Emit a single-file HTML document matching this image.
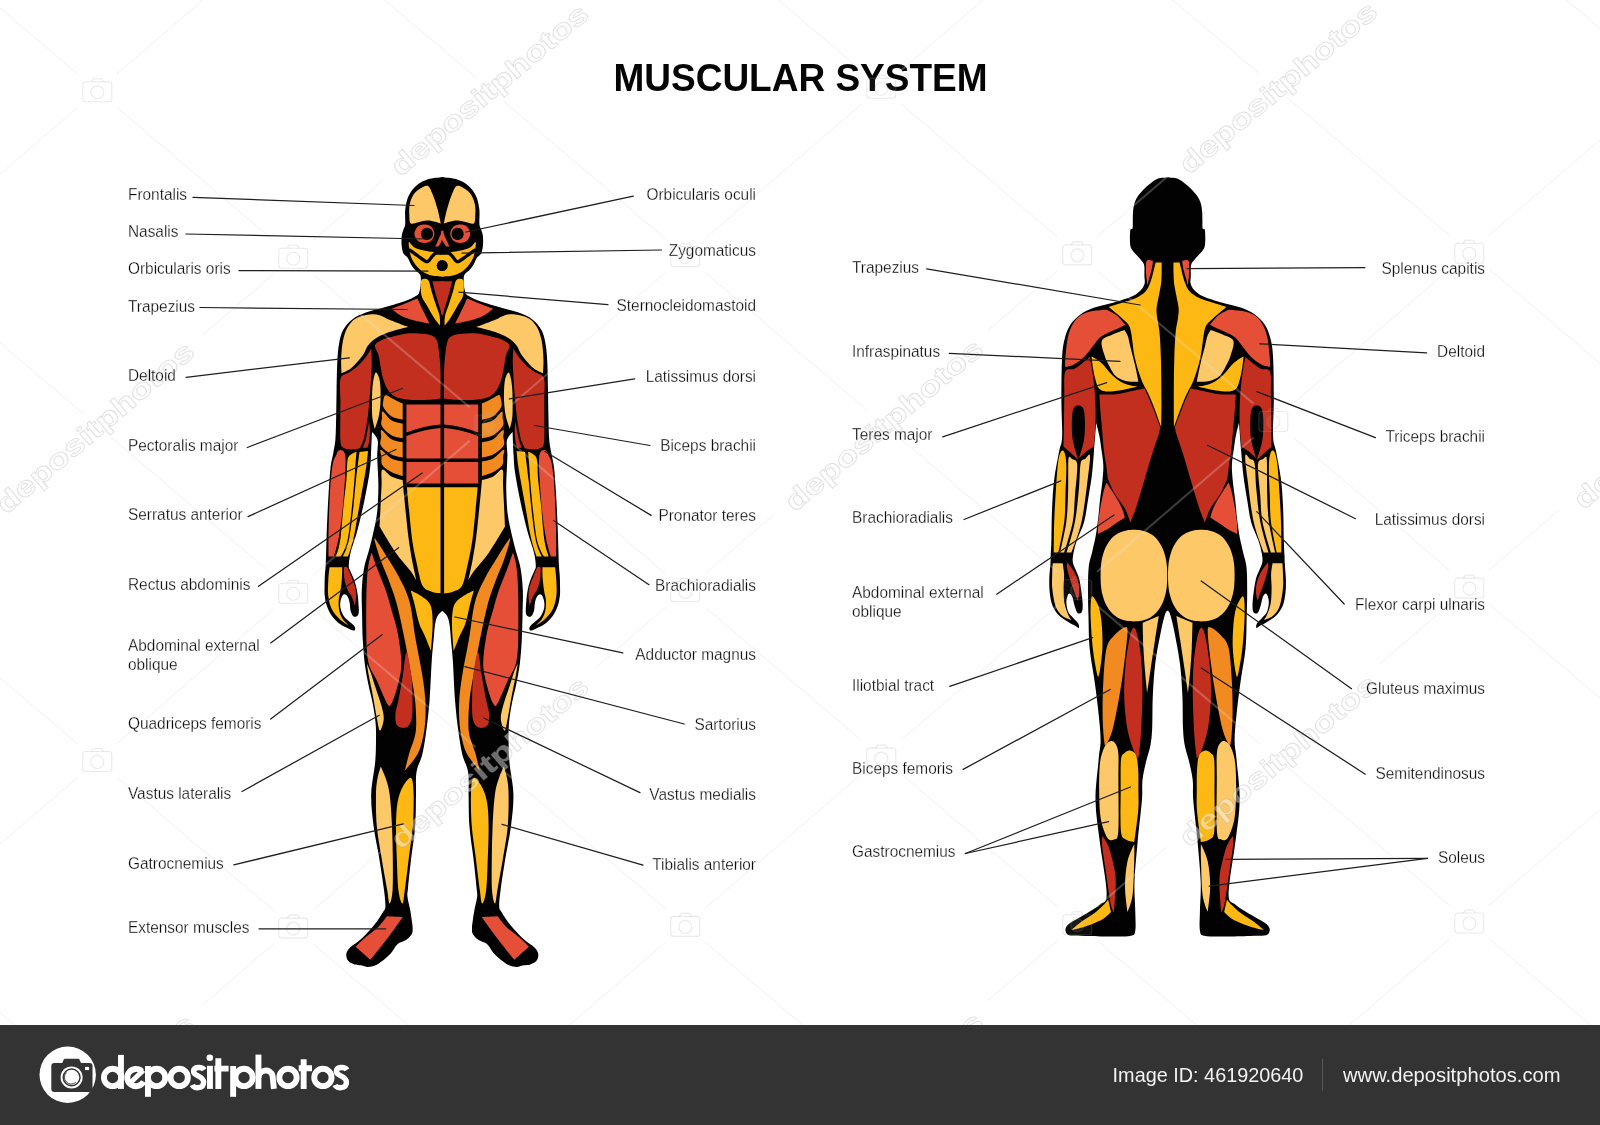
<!DOCTYPE html>
<html><head><meta charset="utf-8"><style>
html,body{margin:0;padding:0;background:#fff;}
body{width:1600px;height:1125px;overflow:hidden;position:relative;font-family:"Liberation Sans",sans-serif;}
svg{position:absolute;left:0;top:0;will-change:transform;}
</style></head><body>
<svg width="1600" height="1125" viewBox="0 0 1600 1125">
<rect x="0" y="0" width="1600" height="1125" fill="#ffffff"/>
<text x="613.5" y="90.6" font-family="Liberation Sans, sans-serif" font-weight="bold" font-size="39.2" fill="#050505" textLength="374" lengthAdjust="spacingAndGlyphs">MUSCULAR SYSTEM</text>
<g id="fs">
<path d="M443.5 177.3C443.5 177.3 444.9 177 442.3 177.3C439.7 177.6 432.3 177.9 428 179.3C423.7 180.7 419.7 182.8 416.5 185.5C413.3 188.2 410.7 191.6 408.8 195.5C406.9 199.4 405.9 204.2 405.3 209C404.7 213.8 405.5 220.6 405.2 224C404.9 227.4 404.1 227.5 403.5 229.5C402.9 231.5 402 233.2 401.7 236C401.4 238.8 401.4 243.1 401.7 246C402 248.9 402.5 251.6 403.5 253.5C404.5 255.4 406.2 255.7 407.5 257.5C408.8 259.3 409.7 262.3 411 264.5C412.3 266.7 413.9 268.8 415.5 270.5C417.1 272.2 419.4 272.9 420.3 275C421.2 277.1 420.9 280.3 420.8 283C420.7 285.7 420.3 288.9 419.6 291C418.9 293.1 419.4 293.8 416.8 295.5C414.2 297.2 409.4 299.5 403.8 301.5C398.2 303.5 389.4 305.9 383.1 307.7C376.8 309.5 371 310.6 365.9 312.5C360.8 314.4 356 316.5 352.2 319.4C348.4 322.3 345.5 325.7 343.3 329.7C341.1 333.7 340.1 338 339.1 343.4C338.1 348.8 337.7 354.2 337.3 362C336.9 369.8 336.8 381.2 336.6 390C336.4 398.8 336.4 407 336.2 415C336 423 335.9 431.8 335.5 438C335.1 444.2 334.3 447 333.5 452C332.7 457 331.3 460.8 330.5 468C329.7 475.2 329.1 485.5 328.5 495C327.9 504.5 327.4 515.8 327 525C326.6 534.2 326.4 543.3 326.2 550C326 556.7 325.9 560.8 325.7 565C325.5 569.2 325.1 571.7 324.9 575C324.7 578.3 324.6 581.6 324.6 585C324.6 588.4 324.3 592.1 324.7 595.6C325.1 599.1 325.6 602.4 326.8 605.8C328 609.2 329.6 612.8 331.9 615.9C334.1 619 337.5 622.2 340.3 624.3C343.1 626.4 346.6 627.7 348.8 628.7C351.1 629.8 352.7 630.6 353.8 630.6C354.9 630.6 355.3 629.4 355.3 628.5C355.3 627.6 354.7 626.5 353.6 625.3C352.5 624 350.5 622.6 348.8 621C347.1 619.4 345.1 617.9 343.7 615.9C342.3 613.9 341.3 611.4 340.7 609.1C340.1 606.9 340.1 604.5 340.3 602.4C340.5 600.3 341.3 597.9 342 596.5C342.7 595.1 343.6 594.2 344.5 594.2C345.4 594.2 346.6 595.1 347.5 596.5C348.4 597.9 349.1 600 349.6 602.4C350.1 604.8 350 608.5 350.6 610.8C351.2 613 352 614.9 353 615.9C354 616.9 355.4 617.1 356.4 616.6C357.3 616.1 358.3 615.1 358.7 613C359.1 610.9 358.7 607 358.5 604C358.3 601 358.1 598.1 357.7 595C357.3 591.9 356.7 588.5 355.9 585.5C355.1 582.5 354 579.6 353 577.1C352 574.6 350.8 572.4 350.1 570.5C349.4 568.6 348.7 568.9 348.8 566C348.9 563.1 349.1 559 350.5 553C351.9 547 355.2 538.8 357.5 530C359.8 521.2 362.5 509.7 364.5 500C366.5 490.3 368.5 479.5 369.6 472C370.7 464.5 370.6 461.7 371 455C371.4 448.3 372 432 372 432C372 432 376.7 436.2 377.6 440C378.5 443.8 377.2 450 377.2 455C377.2 460 377.6 465 377.8 470C378 475 378.4 480 378.4 485C378.4 490 378.3 495 378 500C377.7 505 377.6 509.5 376.8 515C376 520.5 374.6 526.9 373.3 532.8C372 538.7 370.4 544.7 368.9 550.6C367.3 556.5 365.2 561.8 364 568.4C362.8 575 362.1 582.9 361.8 590C361.5 597.1 361.8 602.7 362 611C362.2 619.3 362.3 631.2 362.8 640C363.3 648.8 363.9 656.5 364.8 664C365.8 671.5 367.2 678.5 368.5 685C369.8 691.5 371.4 696.8 372.6 703C373.8 709.2 374.9 715.8 375.5 722C376.1 728.2 376.1 733.3 376 740C375.9 746.7 376 753 375.2 762C374.4 771 371.5 783.3 371.2 794C370.9 804.7 372.3 815.3 373.6 826C374.9 836.7 377.5 847.3 379.2 858C380.9 868.7 383 882 384 890C385 898 385.5 902.3 385.4 906C385.2 909.7 385 908.8 383.1 912.1C381.2 915.4 377.5 921.1 373.8 925.6C370.1 930.1 365.1 935.5 361.1 939.1C357.2 942.8 352.6 945 350.1 947.5C347.6 950 346.6 952 346.3 954.3C346 956.6 347 959.4 348.4 961.1C349.8 962.8 352.3 963.7 354.4 964.4C356.5 965.1 358.9 964.9 361.1 965.3C363.4 965.7 365.5 967 367.9 967C370.3 967 373.1 966.3 375.5 965.3C377.9 964.3 379.7 963.1 382.2 961.1C384.7 959.1 388.2 956.3 390.7 953.5C393.2 950.7 394.9 946.5 397.4 944.2C399.9 942 403.5 941.7 405.9 940C408.3 938.3 410.7 936.1 411.8 934C412.9 931.9 412.6 929.5 412.6 927.3C412.6 925 412.2 923.5 411.8 920.5C411.4 917.5 410.8 913.5 410.1 909.6C409.4 905.7 407.9 900.5 407.5 896.9C407.1 893.3 407.4 894.5 408 888C408.6 881.5 410 868.3 411.2 858C412.4 847.7 414.4 836.7 415.2 826C416 815.3 415.8 803 416 794C416.2 785 415.4 778.7 416.5 772C417.6 765.3 420.8 761 422.4 754C424 747 425.2 739 426.4 730C427.6 721 428.7 711.7 429.6 700C430.5 688.3 431.1 670 431.8 660C432.5 650 433.1 645.8 433.6 640C434.1 634.2 434.4 629 435 625C435.6 621 436.3 618.3 437.5 616C438.7 613.7 441.3 611.8 442.3 611C443.3 610.2 443.5 611 443.5 611C443.5 611 443.5 177.3 443.5 177.3Z" fill="#020203"/>
</g>
<use href="#fs" transform="translate(884.6,0) scale(-1,1)"/>
<g id="fh">
<path d="M427.5 185.8C425.3 185 421.9 187.4 419.5 189C417.1 190.6 414.6 192.8 413 195.5C411.4 198.2 410.2 201.8 409.6 205C409 208.2 409.1 211.9 409.3 215C409.5 218.1 409.2 222.3 410.8 223.5C412.4 224.7 416.3 222.5 419 222C421.7 221.5 424.5 220.6 427 220.5C429.5 220.4 431.7 221 434 221.5C436.3 222 440.8 223.5 440.8 223.5C440.8 223.5 438.9 213.9 437.5 209C436.1 204.1 434.2 197.9 432.5 194C430.8 190.1 429.7 186.6 427.5 185.8Z" fill="#fdc868"/>
<path d="M409 242C409.8 241.6 412 246.1 414.5 247.5C417 248.9 420.8 249.8 424 250.5C427.2 251.2 430.9 251.7 434 252C437.1 252.3 440.7 252.2 442.3 252.2C443.9 252.2 443.5 252.2 443.5 252.2C443.5 252.2 443.5 276.5 443.5 276.5C443.5 276.5 444.1 276.6 442.3 276.5C440.6 276.4 436.1 276.5 433 275.8C429.9 275.1 426.8 274.1 424 272.5C421.2 270.9 418.6 268.4 416.5 266C414.4 263.6 412.7 260.7 411.5 258C410.3 255.3 409.9 252.7 409.5 250C409.1 247.3 408.2 242.4 409 242Z" fill="#fdb814"/>
<path d="M424.4 224.4C426.6 224.4 429.3 224.9 431 226.5C432.7 228.1 434.4 231.3 434.4 233.7C434.4 236.1 432.7 239.2 431 240.8C429.3 242.4 426.6 243 424.4 243C422.2 243 419.5 242.4 417.8 240.8C416.1 239.2 414.4 236.1 414.4 233.7C414.4 231.3 416.1 228.1 417.8 226.5C419.5 224.9 422.2 224.4 424.4 224.4Z" fill="#e64f37"/>
<path d="M427 227.8C428.4 227.8 430.3 228.6 431.3 229.6C432.3 230.6 433.1 232.5 433.1 233.9C433.1 235.3 432.3 237.2 431.3 238.2C430.3 239.2 428.4 240 427 240C425.6 240 423.7 239.2 422.7 238.2C421.7 237.2 420.9 235.3 420.9 233.9C420.9 232.5 421.7 230.6 422.7 229.6C423.7 228.6 425.6 227.8 427 227.8Z" fill="#020203"/>
<path d="M443.5 230.8 L442.3 230.8 L435.3 246.5 L443.5 246.5Z" fill="#e64f37"/>
<path d="M443.5 240.5 L442.3 240.5 L437.5 248 L443.5 248Z" fill="#020203"/>
<path d="M409.8 250.2C411.2 251.2 415.4 254.2 418 256C420.6 257.9 423.8 260.5 425.5 261.3C427.2 262.1 427.3 261.9 428.5 261C429.7 260.1 431.2 257.3 432.5 256C433.8 254.7 434.2 253.7 436 253.2C437.8 252.7 442.2 253.2 443.5 253.2" fill="none" stroke="#020203" stroke-width="3.3" stroke-linecap="round" stroke-linejoin="round"/>
<circle cx="442.3" cy="265.6" r="5.5" fill="#020203"/>
<path d="M421.8 279.5C423.1 278.4 426.7 278.4 428.3 280.2C429.9 281.9 430 286 431.2 290C432.4 294 434.2 299.7 435.6 304C437 308.3 438.9 312.4 439.6 316C440.3 319.6 440 325.5 440 325.5C440 325.5 436.6 321.7 434.5 318.5C432.4 315.3 429.6 310.2 427.5 306.5C425.4 302.8 422.9 299.8 421.8 296.5C420.7 293.2 420.8 289.8 420.8 287C420.8 284.2 420.6 280.6 421.8 279.5Z" fill="#fdb814"/>
<path d="M432.5 281.3C432.5 281.3 443.5 281.3 443.5 281.3C443.5 281.3 443.5 313.5 443.5 313.5C443.5 313.5 442.3 315.5 442.3 315.5C442.3 315.5 439.4 306.6 438.2 302.5C436.9 298.4 435.8 294.5 434.8 291C433.9 287.5 432.5 281.3 432.5 281.3Z" fill="#c32f1e"/>
<path d="M391.4 308.8C391.4 308.8 399.6 305.7 404 304C408.4 302.3 417.5 298.5 417.5 298.5C417.5 298.5 420.3 304.9 422.3 309.1C424.3 313.3 429.4 323.5 429.4 323.5C429.4 323.5 415.5 320.8 410.6 319.4C405.8 318 403.5 317.1 400.3 315.3C397.1 313.5 391.4 308.8 391.4 308.8Z" fill="#e64f37"/>
<path d="M341.6 373.2C341.6 373.2 348 370.8 351.6 367.7C355.2 364.6 360.4 358.4 363.1 354.7C365.8 351 365.8 348.3 368 345.5C370.2 342.7 372.6 340.3 376.3 338C380 335.7 384.7 333.7 390 331.8C395.3 329.9 407.9 326.9 407.9 326.9C407.9 326.9 394.7 322.1 390 320.1C385.3 318.2 383.1 316.1 379.7 315.2C376.3 314.3 373.3 314.1 369.4 314.6C365.5 315.1 359.7 316.2 356.2 318.2C352.7 320.1 350.3 323.1 348.2 326.3C346.1 329.5 344.8 333.6 343.7 337.5C342.6 341.4 342.1 345.9 341.7 350C341.3 354.1 341.1 358.1 341.1 362C341.1 365.9 341.6 373.2 341.6 373.2Z" fill="#fdc868"/>
<path d="M340.6 378.5C342 373.9 346.4 374.3 349 372.5C351.6 370.7 353.9 369.5 356.1 367.6C358.4 365.7 360.6 363.1 362.5 361C364.4 358.9 365.9 357.1 367.3 355C368.8 352.9 371.2 348.5 371.2 348.5C371.2 348.5 371.8 357.2 371.8 362C371.8 366.8 371.4 371.7 371.1 377.4C370.8 383.1 370.3 389.8 369.8 396C369.3 402.2 368.6 409.4 368 414.7C367.4 420 366.7 423.9 366 428C365.3 432.1 364.6 436.2 363.6 439.6C362.6 443 359.9 448.3 359.9 448.3C359.9 448.3 352.8 449.8 349.9 449.6C347 449.4 344 448.7 342.4 447.1C340.8 445.5 340.8 444.5 340.4 440C340 435.5 340.3 426.7 340.3 420C340.3 413.3 340.3 406.9 340.4 400C340.4 393.1 339.2 383.1 340.6 378.5Z" fill="#c32f1e"/>
<path d="M369.2 421C369.2 421 369.9 428.5 369.9 432C369.9 435.5 369.4 439.4 369 442C368.6 444.6 367.4 447.8 367.4 447.8C367.4 447.8 362.8 447.8 362.8 447.8C362.8 447.8 364.8 443 365.6 440C366.4 437 367 433.2 367.6 430C368.2 426.8 369.2 421 369.2 421Z" fill="#c32f1e"/>
<path d="M376 372.5C377 372.5 378.6 375.8 379.4 379C380.2 382.2 380.5 387.7 380.6 392C380.8 396.3 380.6 400.8 380.3 405C380 409.2 379.5 413 378.6 417C377.7 421 374.8 429 374.8 429C374.8 429 372.9 422 372.4 418C371.9 414 372 409.7 372 405C372 400.3 372 394.3 372.3 390C372.6 385.7 373 381.9 373.6 379C374.2 376.1 375 372.5 376 372.5Z" fill="#fdc868"/>
<path d="M375 345.5C375.4 343.1 378.5 341.9 381 340.5C383.5 339.1 385.6 338.5 390 337.3C394.4 336.1 401.5 333.9 407.2 333.4C412.9 332.8 420.2 333.6 424.4 334C428.6 334.4 430.5 334.9 432.6 336C434.7 337.1 435.7 337.8 436.8 340.5C437.9 343.2 438.4 347.1 439 352C439.6 356.9 440.2 362.2 440.5 370C440.8 377.8 440.6 398.6 440.6 398.6C440.6 398.6 434.9 399.6 430.6 399.8C426.3 400 419.3 400.1 415 400C410.7 399.9 408 399.9 404.7 399.3C401.4 398.7 397.8 398.1 395 396.5C392.2 394.9 389.9 392.8 388 390C386.1 387.2 384.7 383.7 383.5 380C382.3 376.3 381.6 372.2 380.8 368C380 363.8 379.5 358.8 378.5 355C377.5 351.2 374.6 347.9 375 345.5Z" fill="#c32f1e"/>
<path d="M406.4 404.4 L440.5 404.4 L440.5 424.4 L432 425.5 L424 427 L415 429.5 L406.4 432.4Z" fill="#e64f37"/>
<path d="M406.4 435.9 L415 433 L424 430.5 L432 429 L440.5 427.9 L440.5 458.4 L406.4 458.4Z" fill="#e64f37"/>
<path d="M406.4 462 L440.5 462 L440.5 483.6 L406.4 483.6Z" fill="#e64f37"/>
<path d="M406.9 487.2C406.9 487.2 440.5 487.2 440.5 487.2C440.5 487.2 440.5 593.4 440.5 593.4C440.5 593.4 434.1 592.9 431.1 591.5C428.1 590.1 424.8 590.2 422.3 585.3C419.9 580.4 418.1 569.5 416.4 562C414.7 554.5 413.3 547.8 412.2 540C411.1 532.2 410.4 523.8 409.5 515C408.6 506.2 406.9 487.2 406.9 487.2Z" fill="#fdb814"/>
<path d="M385.5 395C386.9 394.6 389.9 397.2 392 398.3C394.1 399.4 396.2 400.6 398 401.5C399.8 402.4 402.7 403.5 402.7 403.5C402.7 403.5 402.7 419.7 402.7 419.7C402.7 419.7 394.6 418.3 391.4 416.3C388.2 414.3 385 410.1 383.6 407.5C382.2 404.9 383 403.1 383.3 401C383.6 398.9 384.1 395.4 385.5 395Z" fill="#f18a20"/>
<path d="M382.8 411.5C384.4 411.9 388.1 418.3 391.4 420.3C394.7 422.3 402.7 423.7 402.7 423.7C402.7 423.7 402.7 438.3 402.7 438.3C402.7 438.3 394.5 437.1 391 435C387.5 432.9 383.3 428.8 381.8 426C380.3 423.2 381.8 420.4 382 418C382.2 415.6 381.2 411.1 382.8 411.5Z" fill="#f18a20"/>
<path d="M381.6 430C383.2 430.3 387.5 436.9 391 439C394.5 441.1 402.7 442.3 402.7 442.3C402.7 442.3 402.7 457.4 402.7 457.4C402.7 457.4 395 456.3 391.4 454.4C387.8 452.4 382.7 448.6 381 445.7C379.3 442.8 381.1 439.6 381.2 437C381.3 434.4 380 429.7 381.6 430Z" fill="#f18a20"/>
<path d="M380.9 449.7C382.5 449.9 387.8 456.4 391.4 458.4C395 460.3 402.7 461.4 402.7 461.4C402.7 461.4 402.7 476 402.7 476C402.7 476 394.8 473.8 391.4 472C388 470.2 383.8 467.5 382.2 465C380.6 462.5 381.7 459.6 381.5 457C381.3 454.4 379.2 449.5 380.9 449.7Z" fill="#f18a20"/>
<path d="M382.2 469.8C383.8 468.4 388 474.8 391.4 476.5C394.8 478.2 402.7 480.2 402.7 480.2C402.7 480.2 403.4 489.2 404 495C404.6 500.8 405.2 507.5 406 515C406.8 522.5 407.7 532.2 408.8 540C409.9 547.8 411.1 555.2 412.4 562C413.7 568.8 416.4 580.5 416.4 580.5C416.4 580.5 413.3 574.8 409.8 570.1C406.3 565.4 400.6 559.7 395.6 552.4C390.6 545.1 379.6 526.5 379.6 526.5C379.6 526.5 380.3 511.9 380.6 505C380.9 498.1 381.3 490.9 381.6 485C381.9 479.1 380.6 471.2 382.2 469.8Z" fill="#fdc868"/>
<path d="M374.4 539C374.7 541.7 378 552.4 380.5 559.5C383 566.6 386.6 574.3 389.3 581.7C392 589.1 394.3 594.7 396.8 604C399.3 613.3 401.8 625.5 404.2 637.3C406.6 649.1 409.2 664.2 411 674.6C412.8 685 414.1 691.2 415 699.5C415.9 707.8 416.3 718 416.2 724.4C416.1 730.8 415.5 733.4 414.4 738C413.3 742.6 411.2 746.5 409.6 752C408 757.5 404.8 770.8 404.8 770.8C404.8 770.8 414.5 759.7 417.6 754C420.7 748.3 421.9 742.1 423.2 736.4C424.5 730.7 424.9 726.1 425.3 720C425.7 713.9 425.8 707.1 425.3 699.5C424.8 691.9 423.9 685 422.2 674.6C420.5 664.2 417.4 649.4 415.3 637.3C413.2 625.2 412.3 612 409.6 602C406.9 592 403.1 585.1 399.1 577.3C395.1 569.5 389.2 560.6 385.8 555C382.4 549.4 380.4 546.2 378.5 543.5C376.6 540.8 374.1 536.3 374.4 539Z" fill="#f18a20"/>
<path d="M371.6 552.4C371.6 552.4 375.4 563.6 377.8 570C380.2 576.4 383.5 583.9 385.8 590.6C388.1 597.3 389.6 603.3 391.5 610C393.4 616.7 395.7 623.3 397.3 631C398.9 638.7 400.4 649.5 401 656C401.6 662.5 401.6 664.5 401 669.7C400.4 674.9 398.8 681.6 397.3 687C395.9 692.4 393.7 698.8 392.3 702C390.9 705.2 389.2 706.3 389.2 706.3C389.2 706.3 387.9 705.3 385.8 701C383.7 696.7 379.5 686.3 376.8 680.5C374.1 674.7 371.1 671.1 369.4 666C367.7 660.9 367.3 656 366.8 650C366.3 644 366.4 638.3 366.3 630C366.2 621.7 366.2 608.8 366.3 600C366.4 591.2 366.7 583.6 367.1 577.3C367.6 571 368.2 566.1 369 562C369.8 557.9 371.6 552.4 371.6 552.4Z" fill="#e64f37"/>
<path d="M406.6 652.2C408 652.2 410.2 666.7 411.2 674.6C412.2 682.5 412.4 692 412.5 699.5C412.6 707 412.7 714.7 411.6 719.4C410.5 724.1 408.4 726.5 406 727.5C403.6 728.5 399.1 727.8 397.3 725.6C395.5 723.4 395.2 718.8 395.4 714.4C395.6 710 397.3 706.1 398.6 699.5C399.9 692.9 401.7 682.5 403 674.6C404.3 666.7 405.2 652.2 406.6 652.2Z" fill="#c32f1e"/>
<path d="M366.8 663.6C366.8 663.6 369.1 668.3 370.5 672C371.9 675.7 373.1 680.2 375 686C376.9 691.8 380.4 701.4 381.8 707C383.2 712.6 384 715.5 383.7 719.4C383.4 723.3 381 730.8 379.9 730.6C378.8 730.4 378.1 724.2 376.8 718C375.6 711.8 373.8 700.5 372.4 693.3C371 686.1 369.6 680 368.7 675C367.8 670 366.8 663.6 366.8 663.6Z" fill="#fdc868"/>
<path d="M410.7 590.6C410.7 590.6 418.9 594.2 422.3 596.8C425.7 599.4 429.1 601.3 430.8 606C432.5 610.7 432.6 617.4 432.6 624.9C432.6 632.4 430.9 651 430.9 651C430.9 651 426.4 639.4 424.5 635C422.6 630.6 421 628.6 419.7 624.9C418.4 621.2 417.4 616.8 416.5 613C415.6 609.2 415 605.7 414 602C413 598.3 410.7 590.6 410.7 590.6Z" fill="#fdb814"/>
<path d="M380.8 766.8C380.8 766.8 384.1 773.5 385.6 778C387.1 782.5 388.5 786 389.6 794C390.7 802 391.5 815.3 392 826C392.5 836.7 392.7 847.3 392.8 858C392.9 868.7 393.1 882.4 392.6 890C392.1 897.6 390.5 903.6 389.6 903.6C388.7 903.6 388.5 897.6 387.2 890C385.9 882.4 383.3 868.7 381.6 858C379.9 847.3 377.7 836.7 376.8 826C375.9 815.3 375.9 802 376 794C376.1 786 376.8 782.5 377.6 778C378.4 773.5 380.8 766.8 380.8 766.8Z" fill="#fdc868"/>
<path d="M411.2 778C412.9 779.3 413.3 786 413.6 794C413.9 802 413.6 815.3 412.8 826C412 836.7 410.1 847.3 408.8 858C407.5 868.7 405.9 882.4 404.8 890C403.7 897.6 403.5 903.6 402.4 903.6C401.3 903.6 399.3 897.6 398.4 890C397.5 882.4 397.2 868.7 396.8 858C396.4 847.3 395.9 835.3 396 826C396.1 816.7 396.4 808.7 397.6 802C398.8 795.3 400.9 790 403.2 786C405.5 782 409.5 776.7 411.2 778Z" fill="#fdb814"/>
<path d="M386.9 916.3C386.9 916.3 402.9 917.1 402.9 917.1C402.9 917.1 398.3 923.5 395 928C391.7 932.5 387.1 938.7 383 944C378.9 949.3 370.4 959.8 370.4 959.8C370.4 959.8 355.6 946.7 355.6 946.7C355.6 946.7 361.6 940.6 365.3 937.4C369 934.2 374.4 930.8 378 927.3C381.6 923.8 386.9 916.3 386.9 916.3Z" fill="#e64f37"/>
<path d="M335.8 456C336.7 454.1 337.4 451.5 338.5 450.6C339.6 449.7 341.3 449.7 342.4 450.4C343.5 451.1 344.7 452.1 345.2 455C345.7 457.9 345.6 463.8 345.5 468C345.4 472.2 345.4 473 344.9 480C344.4 487 343.6 500.8 342.6 510C341.7 519.2 340.3 528.3 339.2 535C338.1 541.7 336.7 546.4 335.8 550C334.9 553.6 333.6 556.5 333.6 556.5C333.6 556.5 328.5 556.5 328.5 556.5C328.5 556.5 328.4 539.4 328.6 530C328.8 520.6 329.2 508.7 329.6 500C330 491.3 330.4 484.3 331 478C331.6 471.7 332.4 465.7 333.2 462C334 458.3 334.9 457.9 335.8 456Z" fill="#e64f37"/>
<path d="M347.6 460C348.4 455.8 349.5 455.9 351 454.5C352.5 453.1 356.5 451.8 356.5 451.8C356.5 451.8 355.8 460.3 355.4 465C355 469.7 355 472.5 354.4 480C353.8 487.5 352.7 500.3 351.6 510C350.5 519.7 349.2 531.3 348 538C346.8 544.7 345.4 546.9 344.2 550C343 553.1 340.6 556.5 340.6 556.5C340.6 556.5 335.9 556.5 335.9 556.5C335.9 556.5 337.8 551.6 338.6 548C339.4 544.4 340.1 542.2 340.9 535C341.7 527.8 342.7 514.2 343.6 505C344.5 495.8 345.7 487.5 346.4 480C347.1 472.5 346.8 464.2 347.6 460Z" fill="#fdb814"/>
<path d="M359.5 452C359.5 452 368 451 368 451C368 451 367.2 460.2 366.5 465C365.8 469.8 365.2 473.3 364 480C362.8 486.7 361.1 496.2 359.5 505C357.9 513.8 356 526 354.6 533C353.2 540 352.3 543.1 351.2 547C350.1 550.9 348 556.5 348 556.5C348 556.5 342.8 556.5 342.8 556.5C342.8 556.5 345.4 551.6 346.6 548C347.8 544.4 348.6 542.2 349.8 535C351 527.8 352.6 514.2 353.6 505C354.6 495.8 355 488.8 356 480C357 471.2 359.5 452 359.5 452Z" fill="#fdb814"/>
<path d="M329.5 567.2C329.5 567.2 342.2 567.2 342.2 567.2C342.2 567.2 342.2 574.8 341.9 578.8C341.6 582.8 340.9 587.9 340.4 591.4C339.9 594.9 338.9 596.7 338.7 599.9C338.5 603.1 338.6 607.6 339.3 610.8C340 614 341.2 616.8 342.8 619.3C344.4 621.8 349 625.6 349 625.6C349 625.6 343.2 622.5 340.3 619.8C337.4 617.1 333.9 613.3 331.9 609.3C329.9 605.3 328.8 600.5 328.2 595.6C327.6 590.7 328.1 584.7 328.3 580C328.5 575.3 329.5 567.2 329.5 567.2Z" fill="#fdb814"/>
<path d="M343.9 567.4C343.9 567.4 346.1 565.8 347.3 567.4C348.6 569 350.1 573.7 351.4 577C352.7 580.3 354.4 583.8 355.2 587.2C356 590.6 356.1 594.2 356 597.3C355.9 600.4 354.9 606 354.9 606C354.9 606 353.3 600.1 352 597.3C350.7 594.4 348.5 592 347.2 588.9C345.9 585.8 344.9 582.4 344.4 578.8C343.8 575.2 343.9 567.4 343.9 567.4Z" fill="#c32f1e"/>
</g>
<use href="#fh" transform="translate(884.6,0) scale(-1,1)"/>
<g id="bs">
<path d="M1168.8 177.6C1168.8 177.6 1169.4 177.4 1167.6 177.6C1165.8 177.8 1160.8 177.6 1158 178.6C1155.2 179.6 1153.1 181.5 1150.7 183.3C1148.3 185.1 1146 187 1143.8 189.2C1141.6 191.4 1139.1 194.3 1137.5 196.7C1135.9 199.1 1135.1 201.1 1134.4 203.5C1133.7 205.9 1133.4 208.2 1133.1 211C1132.8 213.8 1132.9 217.1 1132.8 220C1132.7 222.9 1133 226.6 1132.6 228.2C1132.2 229.8 1130.9 228.2 1130.4 229.8C1130 231.4 1129.9 235.3 1129.9 238C1129.9 240.7 1130 243.9 1130.4 246C1130.9 248.1 1131.5 249 1132.6 250.6C1133.7 252.2 1135.5 253.9 1137 255.6C1138.5 257.3 1140.2 259 1141.4 260.6C1142.6 262.2 1143.7 262.9 1144.2 265.5C1144.7 268.1 1144.3 273 1144.4 276C1144.5 279 1145.2 281.2 1144.6 283.5C1144 285.8 1143 287.9 1141 290C1139 292.1 1137 294.1 1132.3 296.2C1127.6 298.3 1119.4 300.8 1113 302.7C1106.6 304.6 1099.1 305.9 1093.7 307.8C1088.3 309.7 1084.7 311.5 1080.8 314.3C1076.9 317.1 1073.2 320.5 1070.5 324.6C1067.8 328.7 1066.1 333.2 1064.7 338.8C1063.3 344.4 1062.6 347.9 1062.1 358.1C1061.5 368.3 1061.4 386.9 1061.4 400C1061.4 413.1 1062.5 428.4 1062.1 436.9C1061.7 445.4 1060.5 444 1059.2 451.1C1057.9 458.2 1055.4 470.1 1054.2 479.6C1053 489.1 1052.6 497.9 1052.1 508C1051.6 518.1 1051.6 532.2 1051.4 540C1051.2 547.8 1050.9 551.3 1050.7 555C1050.5 558.7 1050.7 558.2 1050.5 562.2C1050.3 566.2 1049.4 573.7 1049.3 578.9C1049.2 584.1 1049.2 589 1049.8 593.5C1050.4 598 1051.1 602.5 1052.7 606.2C1054.3 610 1056.9 613.4 1059.5 616C1062.1 618.6 1065.7 620.3 1068.3 621.9C1070.9 623.5 1073.5 624.8 1075.2 625.8C1077 626.8 1078.3 628.4 1078.8 628C1079.3 627.6 1079.2 625.2 1078.3 623.5C1077.4 621.8 1074.9 619.9 1073.2 618C1071.5 616.1 1069.4 614.6 1068.3 612.1C1067.2 609.6 1066.6 605.9 1066.4 603.3C1066.2 600.7 1066.9 598.1 1067.4 596.5C1067.9 594.9 1068.5 593.5 1069.3 593.5C1070.1 593.5 1071.3 594.4 1072.2 596.5C1073.1 598.6 1073.8 603.4 1074.7 606.2C1075.6 609 1076.5 612.1 1077.6 613.1C1078.7 614.1 1080.7 613.5 1081.5 612.4C1082.3 611.2 1082.7 609.4 1082.7 606.2C1082.7 603.1 1082.3 598 1081.7 593.5C1081.1 589 1080.3 583 1079.3 578.9C1078.2 574.8 1076.5 571.9 1075.4 569.1C1074.3 566.3 1073.1 564.7 1072.8 562C1072.5 559.3 1072.8 556.7 1073.5 553C1074.2 549.3 1075.2 545.2 1077 540C1078.8 534.8 1082.3 528.7 1084.1 522C1085.9 515.3 1086.7 507.8 1088 500C1089.3 492.2 1090.9 483.1 1091.9 475C1092.9 466.9 1093.3 459.8 1094 451.1C1094.7 442.4 1096.2 422.7 1096.2 422.7C1096.2 422.7 1098.3 430.4 1099.2 435C1100.1 439.6 1100.8 445 1101.5 450C1102.2 455 1103.1 460 1103.3 465C1103.5 470 1103 474.2 1102.5 480C1102 485.8 1100.8 493.3 1100 500C1099.2 506.7 1098.8 513.8 1098 520C1097.2 526.2 1096.5 531.7 1095.5 537C1094.5 542.3 1093.3 547 1092.2 552C1091.1 557 1089.4 560.5 1088.7 567.2C1088 573.9 1088 583.7 1088 592C1088 600.3 1088.2 607.7 1088.5 617C1088.8 626.3 1088.6 637.5 1089.6 648C1090.6 658.5 1092.9 669.3 1094.4 680C1095.9 690.7 1097.4 702 1098.4 712C1099.4 722 1100.6 732 1100.6 740C1100.6 748 1099.4 749.9 1098.6 760C1097.8 770.1 1095.3 787 1095.5 800.5C1095.7 814 1098 827.5 1099.7 841C1101.4 854.5 1104.5 871.9 1105.6 881.6C1106.7 891.3 1107 895.3 1106.2 899C1105.4 902.7 1102.6 902.3 1100.5 904C1098.4 905.7 1096.9 907.1 1093.5 909.3C1090.1 911.5 1084 914.8 1080 917.2C1076 919.6 1071.9 921.6 1069.5 923.5C1067.1 925.4 1066.1 926.8 1065.6 928.5C1065.1 930.2 1065.7 932.4 1066.6 933.6C1067.5 934.8 1067.9 935.2 1071 935.6C1074.1 936 1078.7 935.8 1085.3 936C1091.9 936.2 1103 936.6 1110.6 936.6C1118.2 936.6 1126.8 936.8 1130.9 935.8C1135 934.8 1134.6 934.5 1135.3 930.5C1136 926.5 1135.4 920.1 1135.3 912C1135.2 903.9 1134.1 893.4 1134.5 881.6C1134.9 869.8 1136.5 854.5 1137.7 841C1138.9 827.5 1141.1 810.7 1141.9 800.5C1142.7 790.3 1141.8 786.4 1142.5 780C1143.2 773.6 1144.7 767.8 1146 762C1147.3 756.2 1149.5 750.7 1150.5 745C1151.5 739.3 1151.8 736.2 1152.2 728C1152.6 719.8 1152.3 706.7 1152.8 696C1153.3 685.3 1153.9 674.7 1155.2 664C1156.5 653.3 1159.2 640.2 1160.8 632C1162.4 623.8 1163.9 618.1 1165 614.5C1166.1 610.9 1167 611.2 1167.6 610.5C1168.2 609.8 1168.8 610.5 1168.8 610.5C1168.8 610.5 1168.8 177.6 1168.8 177.6Z" fill="#020203"/>
</g>
<use href="#bs" transform="translate(2335.2,0) scale(-1,1)"/>
<g id="bh">
<path d="M1146.6 261C1147.7 258.7 1153 261 1153 261C1153 261 1152.3 267 1151.6 270C1150.9 273 1149.7 276.4 1149 279C1148.3 281.6 1147.6 285.5 1147.6 285.5C1147.6 285.5 1146.4 279.1 1146.2 275C1146 270.9 1145.5 263.3 1146.6 261Z" fill="#e64f37"/>
<path d="M1155.6 262.5C1155.6 262.5 1155.1 264.8 1154.3 268C1153.5 271.2 1152 278.1 1150.5 282C1149 285.9 1147.9 288.8 1145.5 291.5C1143.1 294.2 1139.3 296.3 1136 298C1132.7 299.7 1130.4 300.1 1125.9 301.6C1121.4 303.1 1108.8 307 1108.8 307C1108.8 307 1114.7 311.9 1116.9 313.8C1119.1 315.7 1120.1 316.4 1122 318.2C1123.9 320 1126.8 322.1 1128.3 324.6C1129.8 327.1 1130.1 327.4 1131.2 333C1132.3 338.6 1133.2 350.3 1134.9 358.1C1136.6 365.9 1139.3 374.2 1141.5 380C1143.7 385.8 1145.8 388.3 1148 393C1150.2 397.7 1152.3 402.7 1154.5 408.4C1156.7 414.1 1161.2 427 1161.2 427C1161.2 427 1161.5 411.5 1161.4 400C1161.4 388.5 1161.2 369.4 1160.9 358.1C1160.6 346.8 1160.1 339 1159.5 332.3C1158.9 325.6 1157.7 322.1 1157.2 318C1156.7 313.9 1156.3 311.8 1156.6 308C1156.9 304.2 1158.3 299 1159 295C1159.7 291 1160.5 287.8 1161 284C1161.5 280.2 1161.6 275.6 1161.7 272C1161.8 268.4 1161.7 262.5 1161.7 262.5C1161.7 262.5 1155.6 262.5 1155.6 262.5Z" fill="#fdb814"/>
<path d="M1106.6 309.8C1106.6 309.8 1098.3 310.3 1095 310.8C1091.7 311.3 1089.3 311.5 1086.5 312.6C1083.7 313.7 1080.5 315.2 1078 317.5C1075.5 319.8 1073.2 322.9 1071.5 326.5C1069.8 330.1 1068.6 333.5 1067.6 338.8C1066.6 344.1 1065.8 353.4 1065.4 358.1C1065 362.8 1065.2 367 1065.2 367C1065.2 367 1071.1 366 1074.3 364.2C1077.5 362.4 1081.4 359.6 1084.6 356.4C1087.8 353.2 1091.1 348.2 1093.7 345C1096.3 341.8 1097.5 339.4 1100.1 337.3C1102.7 335.2 1106.1 333.7 1109.1 332.2C1112.1 330.7 1115.3 329.7 1118 328.5C1120.7 327.3 1125.2 324.8 1125.2 324.8C1125.2 324.8 1120 318.1 1116.9 315.6C1113.8 313.1 1106.6 309.8 1106.6 309.8Z" fill="#e64f37"/>
<path d="M1101.8 341C1103 337.6 1108.2 336.6 1112 334.8C1115.8 333 1124.4 330 1124.4 330C1124.4 330 1126.9 333.5 1127.8 336C1128.7 338.5 1128.8 340.4 1130 345.2C1131.2 350 1133.5 358.5 1134.9 364.6C1136.3 370.7 1138.4 381.8 1138.4 381.8C1138.4 381.8 1129.7 382 1125.9 381C1122.1 380 1118.4 378.5 1115.6 376C1112.8 373.5 1111.1 369.4 1109.3 366C1107.5 362.6 1105.8 359.7 1104.6 355.5C1103.3 351.3 1100.6 344.4 1101.8 341Z" fill="#fdc868"/>
<path d="M1091.6 356.5C1091.6 356.5 1095 358.1 1097 359.5C1099 360.9 1101.5 362.9 1103.5 365C1105.5 367.1 1107.2 369.8 1109.3 372C1111.4 374.2 1113.7 376.7 1116 378.5C1118.3 380.3 1120.5 381.8 1123 383C1125.5 384.2 1128.5 385 1131 385.6C1133.5 386.2 1137.8 386.6 1137.8 386.6C1137.8 386.6 1131.1 388.2 1128 388.8C1124.9 389.4 1123.1 390 1119.4 390.4C1115.7 390.8 1109.5 391.8 1106 391.4C1102.5 391 1100.5 390.3 1098.7 388.2C1096.9 386.1 1096.2 382.4 1095.3 379C1094.3 375.6 1093.6 371.8 1093 368C1092.4 364.2 1091.6 356.5 1091.6 356.5Z" fill="#fdb814"/>
<path d="M1065.2 371.8C1066.9 367.4 1071.3 370.5 1074.5 368.8C1077.7 367.1 1082 363.5 1084.5 361.5C1087 359.5 1089.6 357 1089.6 357C1089.6 357 1091.4 364.5 1092.2 370C1093 375.5 1094 383.3 1094.6 390C1095.2 396.7 1095.5 403.3 1095.6 410C1095.7 416.7 1095.5 423.9 1095.2 430C1094.9 436.1 1093.6 446.8 1093.6 446.8C1093.6 446.8 1087.6 450.4 1085 452.5C1082.4 454.6 1077.8 459.6 1077.8 459.6C1077.8 459.6 1072.8 454.6 1070.4 452.5C1068 450.4 1063.6 446.8 1063.6 446.8C1063.6 446.8 1063.9 428.6 1064 420C1064.1 411.4 1064.1 403 1064.3 395C1064.5 387 1063.5 376.2 1065.2 371.8Z" fill="#c32f1e"/>
<path d="M1078.4 405.6C1080 405.6 1082.1 406.1 1083.2 408.5C1084.3 410.9 1084.8 414.8 1084.9 420C1085 425.2 1085.1 433.3 1084 440C1082.9 446.7 1078.4 460 1078.4 460C1078.4 460 1073.9 446.7 1072.8 440C1071.7 433.3 1071.8 425.2 1071.9 420C1072 414.8 1072.5 410.9 1073.6 408.5C1074.7 406.1 1076.8 405.6 1078.4 405.6Z" fill="#020203"/>
<path d="M1060.5 452.5C1061.6 450.3 1063.2 449.9 1064.2 452C1065.2 454.1 1066.1 457.8 1066.3 465C1066.5 472.2 1065.8 485.5 1065.4 495C1065.1 504.5 1065.4 512.4 1064.2 522C1063 531.6 1058.4 552.6 1058.4 552.6C1058.4 552.6 1053.8 552.6 1053.8 552.6C1053.8 552.6 1053.9 531.6 1054.2 522C1054.5 512.4 1055 504.5 1055.6 495C1056.2 485.5 1057 472.1 1057.8 465C1058.6 457.9 1059.4 454.7 1060.5 452.5Z" fill="#fdb814"/>
<path d="M1068.6 458C1069.2 455.3 1070.6 457.9 1072 459C1073.4 460.1 1076.7 458.5 1077.2 464.5C1077.7 470.5 1075.8 485.4 1075 495C1074.2 504.6 1074.5 512.4 1072.7 522C1070.9 531.6 1064.2 552.6 1064.2 552.6C1064.2 552.6 1060 552.6 1060 552.6C1060 552.6 1065 531.6 1066.3 522C1067.6 512.4 1067.7 502.8 1068 495C1068.3 487.2 1068.1 481.2 1068.2 475C1068.3 468.8 1068 460.7 1068.6 458Z" fill="#fdc868"/>
<path d="M1080.6 463.5C1081.6 458.3 1083.4 460.3 1085 459C1086.6 457.7 1089.6 452 1090 455.5C1090.4 459 1089 468.9 1087.6 480C1086.2 491.1 1084.2 509.9 1081.5 522C1078.8 534.1 1071.4 552.6 1071.4 552.6C1071.4 552.6 1066.6 552.6 1066.6 552.6C1066.6 552.6 1072.9 532.4 1074.9 522C1076.9 511.6 1077.8 499.8 1078.8 490C1079.8 480.2 1079.6 468.7 1080.6 463.5Z" fill="#fdc868"/>
<path d="M1052.8 563.2C1052.8 563.2 1062.6 563.2 1062.6 563.2C1062.6 563.2 1063.9 569.8 1064.1 574C1064.3 578.2 1063.5 583.7 1063.6 588.6C1063.7 593.5 1063.7 598.9 1064.5 603.3C1065.3 607.7 1067.1 612.2 1068.3 615C1069.5 617.8 1071.4 620 1071.4 620C1071.4 620 1065.1 618.3 1062.5 616C1059.9 613.7 1057.3 610.8 1055.6 606.2C1053.9 601.6 1052.9 594 1052.3 588.6C1051.7 583.2 1052.1 578.2 1052.2 574C1052.3 569.8 1052.8 563.2 1052.8 563.2Z" fill="#fdc868"/>
<path d="M1067.4 562.4C1067.4 562.4 1072.3 568.5 1074.2 572C1076.1 575.5 1077.8 580.1 1078.6 583.7C1079.4 587.3 1079.3 590.7 1079.1 593.5C1078.9 596.3 1077.6 600.6 1077.6 600.6C1077.6 600.6 1074.6 592.6 1073.2 588.6C1071.8 584.6 1070.3 580.5 1069.3 576.9C1068.2 573.3 1067.2 569.5 1066.9 567.1C1066.6 564.7 1067.4 562.4 1067.4 562.4Z" fill="#c32f1e"/>
<path d="M1099.4 394.6C1099.4 394.6 1111 394.7 1116.1 394.2C1121.2 393.7 1125.2 392.4 1130 391.5C1134.8 390.6 1144.6 388.6 1144.6 388.6C1144.6 388.6 1150.5 402 1153.1 408.4C1155.7 414.8 1160.2 426.9 1160.2 426.9C1160.2 426.9 1160 430 1158.8 434C1157.6 438 1155.5 443.5 1153.1 451.1C1150.7 458.7 1147.4 470.1 1144.6 479.6C1141.8 489.1 1138.4 500.9 1136 508C1133.6 515.1 1130.3 522.4 1130.3 522.4C1130.3 522.4 1127.2 512.8 1124.6 508C1122 503.2 1117.5 498.7 1114.7 493.8C1111.9 488.9 1107.8 478.5 1107.8 478.5C1107.8 478.5 1106.8 469.6 1106.2 465C1105.6 460.4 1104.8 458.1 1104 451C1103.2 443.9 1102.1 429.9 1101.5 422.7C1100.9 415.5 1100.5 412.7 1100.2 408C1099.9 403.3 1099.4 394.6 1099.4 394.6Z" fill="#c32f1e"/>
<path d="M1106.6 482.5C1106.6 482.5 1110.1 488 1112 491C1113.9 494 1116.2 497.3 1118 500.5C1119.8 503.7 1121.5 507.2 1122.6 510C1123.7 512.8 1124.8 517.5 1124.8 517.5C1124.8 517.5 1118.1 521.9 1115 524C1111.9 526.1 1108.8 528.4 1106 530C1103.2 531.6 1098 533.8 1098 533.8C1098 533.8 1097.8 526.8 1098.3 522C1098.8 517.2 1099.8 510.3 1100.8 505C1101.8 499.7 1103 493.8 1104 490C1105 486.2 1106.6 482.5 1106.6 482.5Z" fill="#e64f37"/>
<path d="M1167.2 575.6C1167.2 579 1167.1 582.9 1166.8 585.9C1166.5 589 1166.1 591.5 1165.5 594C1164.9 596.5 1164.2 598.8 1163.4 601C1162.5 603.2 1161.5 605.2 1160.4 607C1159.3 608.9 1158.1 610.6 1156.8 612.1C1155.4 613.6 1153.9 615 1152.4 616.1C1150.8 617.3 1149.1 618.3 1147.3 619C1145.4 619.8 1143.6 620.4 1141.4 620.8C1139.2 621.2 1136.4 621.4 1133.9 621.4C1131.4 621.4 1128.6 621.2 1126.4 620.8C1124.2 620.4 1122.4 619.8 1120.5 619C1118.7 618.3 1117 617.3 1115.4 616.1C1113.9 615 1112.4 613.6 1111 612.1C1109.7 610.6 1108.5 608.9 1107.4 607C1106.3 605.2 1105.3 603.2 1104.4 601C1103.6 598.8 1102.9 596.5 1102.3 594C1101.7 591.5 1101.3 589 1101 585.9C1100.7 582.9 1100.6 579 1100.6 575.6C1100.6 572.2 1100.7 568.3 1101 565.3C1101.3 562.2 1101.7 559.7 1102.3 557.2C1102.9 554.7 1103.6 552.4 1104.4 550.2C1105.3 548 1106.3 546 1107.4 544.2C1108.5 542.3 1109.7 540.6 1111 539.1C1112.4 537.6 1113.9 536.2 1115.4 535.1C1117 533.9 1118.7 532.9 1120.5 532.2C1122.4 531.4 1124.2 530.8 1126.4 530.4C1128.6 530 1131.4 529.8 1133.9 529.8C1136.4 529.8 1139.2 530 1141.4 530.4C1143.6 530.8 1145.4 531.4 1147.3 532.2C1149.1 532.9 1150.8 533.9 1152.4 535.1C1153.9 536.2 1155.4 537.6 1156.8 539.1C1158.1 540.6 1159.3 542.3 1160.4 544.2C1161.5 546 1162.5 548 1163.4 550.2C1164.2 552.4 1164.9 554.7 1165.5 557.2C1166.1 559.7 1166.5 562.2 1166.8 565.3C1167.1 568.3 1167.2 572.2 1167.2 575.6Z" fill="#fdc868"/>
<path d="M1091.6 597C1092.5 594.5 1094.7 598.8 1096 601C1097.3 603.2 1098.6 606 1099.6 610C1100.6 614 1101.3 618.7 1101.8 625C1102.3 631.3 1102.7 640.7 1102.4 648C1102.1 655.3 1100.9 664 1100.2 668.8C1099.5 673.6 1098.4 677 1098.4 677C1098.4 677 1097.5 676.8 1096.6 672C1095.7 667.2 1093.8 657.3 1092.8 648C1091.8 638.7 1090.8 624.5 1090.6 616C1090.4 607.5 1090.7 599.5 1091.6 597Z" fill="#fdb814"/>
<path d="M1124.5 627.5C1126.7 626.9 1127.5 625.4 1127.5 631.5C1127.5 637.6 1125.5 653.2 1124.2 664C1122.9 674.8 1121.3 685.3 1119.4 696C1117.5 706.7 1115 720.3 1113 728C1111 735.7 1109 739.6 1107.6 742.4C1106.2 745.2 1104.8 745 1104.8 745C1104.8 745 1104 740.5 1103.6 735C1103.2 729.5 1102.6 721.2 1102.6 712C1102.6 702.8 1102.7 690.7 1103.4 680C1104.1 669.3 1104.8 655.5 1106.6 648C1108.4 640.5 1111.4 638.6 1114.4 635.2C1117.4 631.8 1122.3 628.1 1124.5 627.5Z" fill="#f18a20"/>
<path d="M1134.4 628C1135.8 628.8 1137.2 634 1138.4 640C1139.6 646 1140.9 654.7 1141.6 664C1142.3 673.3 1142.5 684 1142.4 696C1142.3 708 1141.5 725.6 1140.8 736C1140.1 746.4 1138.4 758.4 1138.4 758.4C1138.4 758.4 1135.4 755.1 1133.5 750C1131.6 744.9 1128.8 737 1127.2 728C1125.7 719 1124.5 706.7 1124.2 696C1123.9 685.3 1124.6 674.1 1125.6 664C1126.6 653.9 1128.7 641.2 1130.2 635.2C1131.7 629.2 1133 627.2 1134.4 628Z" fill="#c32f1e"/>
<path d="M1142.7 622.8C1142.7 622.8 1147.8 620.6 1150.5 619.5C1153.2 618.4 1158.8 616 1158.8 616C1158.8 616 1156.4 631 1155 640C1153.6 649 1151.8 661.2 1150.5 670C1149.2 678.8 1147.2 692.8 1147.2 692.8C1147.2 692.8 1145.7 679.5 1145.1 672C1144.5 664.5 1143.8 656.2 1143.4 648C1143 639.8 1142.7 622.8 1142.7 622.8Z" fill="#fdc868"/>
<path d="M1103.2 750C1104.6 746.2 1106.2 743.8 1108 742.5C1109.8 741.2 1112.3 740.4 1114 742C1115.7 743.6 1117.5 746.2 1118.2 752C1118.9 757.8 1118.4 763.8 1118.4 776.9C1118.4 790 1119 820.5 1118.3 830.9C1117.6 841.3 1115.8 838.3 1114 839.4C1112.2 840.5 1109.5 841.1 1107.3 837.7C1105.1 834.3 1102.1 826.3 1100.8 819C1099.5 811.7 1099.4 802.8 1099.2 793.8C1099 784.8 1099.1 772.3 1099.8 765C1100.5 757.7 1101.8 753.8 1103.2 750Z" fill="#fdc868"/>
<path d="M1121 760C1121.6 753.8 1123 754.6 1124.5 753C1126 751.4 1128.1 750.2 1130 750.5C1131.9 750.8 1134.6 751.8 1136 755C1137.4 758.2 1137.8 764.2 1138.2 770C1138.6 775.8 1138.4 783.2 1138.4 790C1138.4 796.8 1138.9 802.1 1138.2 810.7C1137.5 819.4 1134.3 841.9 1134.3 841.9C1134.3 841.9 1128 841.2 1125.8 839.4C1123.6 837.6 1121.8 839.1 1120.9 830.9C1120.1 822.7 1120.7 801.8 1120.7 790C1120.7 778.2 1120.4 766.2 1121 760Z" fill="#fdb814"/>
<path d="M1102.2 836C1102.2 836 1105 839.2 1106.4 842C1107.8 844.8 1109 846.9 1110.6 852.9C1112.1 858.9 1115.1 868.4 1115.7 878.2C1116.3 888.1 1114 912 1114 912C1114 912 1112 910.5 1110.6 903.5C1109.2 896.5 1107 879 1105.6 869.7C1104.2 860.5 1103 853.6 1102.4 848C1101.8 842.4 1102.2 836 1102.2 836Z" fill="#c32f1e"/>
<path d="M1134.3 844C1134.3 844 1134.5 852.8 1134.2 861.3C1133.9 869.8 1133.7 886.5 1132.6 895C1131.5 903.5 1127.5 912 1127.5 912C1127.5 912 1125 895.1 1125 886.6C1125 878.1 1126 868.4 1127.5 861.3C1129 854.2 1134.3 844 1134.3 844Z" fill="#fdc868"/>
<path d="M1108.2 899.5C1108.2 899.5 1111 912 1111 912C1111 912 1106.5 917.1 1102.2 919.5C1097.9 921.9 1090.5 924.8 1085.3 926.6C1080.1 928.4 1071.2 930.2 1071.2 930.2C1071.2 930.2 1077.1 924.9 1081 922C1084.9 919.1 1090.8 915.8 1094.5 913C1098.2 910.2 1101.2 907.2 1103.5 905C1105.8 902.8 1108.2 899.5 1108.2 899.5Z" fill="#fdb814"/>
</g>
<use href="#bh" transform="translate(2335.2,0) scale(-1,1)"/>
<path d="M-274.9 -225.7L-118.5 -92.7M-275.0 -259.4L-118.4 -393.9M-281.0 104.1L-118.5 242.2M-188.5 1.2L-118.4 -59.0M-78.9 -59.1L77.5 73.9M-79.0 -92.8L-8.9 -153.0M111.0 -232.5L273.5 -94.4M203.5 -335.4L273.6 -395.6M-274.9 444.1L-118.5 577.1M-275.0 410.4L-118.4 275.9M-78.9 275.8L83.6 413.9M-79.0 242.1L77.6 107.6M117.1 107.5L273.5 240.5M117.0 73.8L273.6 -60.7M313.1 -60.8L475.6 77.3M313.0 -94.5L469.6 -229.0M509.1 -229.1L665.5 -96.1M509.0 -262.8L665.6 -397.3M-281.0 773.9L-118.5 912.0M-188.5 671.0L-118.4 610.8M-78.9 610.7L77.5 743.7M-79.0 577.0L-8.9 516.8M111.0 437.3L273.5 575.4M203.5 334.4L273.6 274.2M313.1 274.1L469.5 407.1M313.0 240.4L383.1 180.2M503.0 100.7L665.5 238.8M595.5 -2.2L665.6 -62.4M705.1 -62.5L861.5 70.5M705.0 -96.2L775.1 -156.4M895.0 -235.9L1057.5 -97.8M987.5 -338.8L1057.6 -399.0M-274.9 1113.9L-118.5 1246.9M-275.0 1080.2L-118.4 945.7M-78.9 945.6L83.6 1083.7M-79.0 911.9L77.6 777.4M117.1 777.3L273.5 910.3M117.0 743.6L273.6 609.1M313.1 609.0L475.6 747.1M313.0 575.3L469.6 440.8M509.1 440.7L665.5 573.7M509.0 407.0L665.6 272.5M705.1 272.4L867.6 410.5M705.0 238.7L861.6 104.2M901.1 104.1L1057.5 237.1M901.0 70.4L1057.6 -64.1M1097.1 -64.2L1259.6 73.9M1097.0 -97.9L1253.6 -232.4M1293.1 -232.5L1449.5 -99.5M1293.0 -266.2L1449.6 -400.7M-78.9 1280.5L77.5 1413.5M-79.0 1246.8L-8.9 1186.6M111.0 1107.1L273.5 1245.2M203.5 1004.2L273.6 944.0M313.1 943.9L469.5 1076.9M313.0 910.2L383.1 850.0M503.0 770.5L665.5 908.6M595.5 667.6L665.6 607.4M705.1 607.3L861.5 740.3M705.0 573.6L775.1 513.4M895.0 433.9L1057.5 572.0M987.5 331.0L1057.6 270.8M1097.1 270.7L1253.5 403.7M1097.0 237.0L1167.1 176.8M1287.0 97.3L1449.5 235.4M1379.5 -5.6L1449.6 -65.8M1489.1 -65.9L1645.5 67.1M1489.0 -99.6L1559.1 -159.8M1679.0 -239.3L1841.5 -101.2M1771.5 -342.2L1841.6 -402.4M313.1 1278.8L475.6 1416.9M313.0 1245.1L469.6 1110.6M509.1 1110.5L665.5 1243.5M509.0 1076.8L665.6 942.3M705.1 942.2L867.6 1080.3M705.0 908.5L861.6 774.0M901.1 773.9L1057.5 906.9M901.0 740.2L1057.6 605.7M1097.1 605.6L1259.6 743.7M1097.0 571.9L1253.6 437.4M1293.1 437.3L1449.5 570.3M1293.0 403.6L1449.6 269.1M1489.1 269.0L1651.6 407.1M1489.0 235.3L1645.6 100.8M1685.1 100.7L1841.5 233.7M1685.0 67.0L1841.6 -67.5M1881.1 -67.6L2043.6 70.5M1881.0 -101.3L2037.6 -235.8M705.1 1277.1L861.5 1410.1M705.0 1243.4L775.1 1183.2M895.0 1103.7L1057.5 1241.8M987.5 1000.8L1057.6 940.6M1097.1 940.5L1253.5 1073.5M1097.0 906.8L1167.1 846.6M1287.0 767.1L1449.5 905.2M1379.5 664.2L1449.6 604.0M1489.1 603.9L1645.5 736.9M1489.0 570.2L1559.1 510.0M1679.0 430.5L1841.5 568.6M1771.5 327.6L1841.6 267.4M1881.1 267.3L2037.5 400.3M1881.0 233.6L1951.1 173.4M1097.1 1275.4L1259.6 1413.5M1097.0 1241.7L1253.6 1107.2M1293.1 1107.1L1449.5 1240.1M1293.0 1073.4L1449.6 938.9M1489.1 938.8L1651.6 1076.9M1489.0 905.1L1645.6 770.6M1685.1 770.5L1841.5 903.5M1685.0 736.8L1841.6 602.3M1881.1 602.2L2043.6 740.3M1881.0 568.5L2037.6 434.0M1489.1 1273.7L1645.5 1406.7M1489.0 1240.0L1559.1 1179.8M1679.0 1100.3L1841.5 1238.4M1771.5 997.4L1841.6 937.2M1881.1 937.1L2037.5 1070.1M1881.0 903.4L1951.1 843.2M1881.1 1272.0L2043.6 1410.1M1881.0 1238.3L2037.6 1103.8" fill="none" stroke="#ffffff" stroke-opacity="0.2" stroke-width="2.2"/>
<path d="M-274.9 -225.7L-118.5 -92.7M-275.0 -259.4L-118.4 -393.9M-281.0 104.1L-118.5 242.2M-188.5 1.2L-118.4 -59.0M-78.9 -59.1L77.5 73.9M-79.0 -92.8L-8.9 -153.0M111.0 -232.5L273.5 -94.4M203.5 -335.4L273.6 -395.6M-274.9 444.1L-118.5 577.1M-275.0 410.4L-118.4 275.9M-78.9 275.8L83.6 413.9M-79.0 242.1L77.6 107.6M117.1 107.5L273.5 240.5M117.0 73.8L273.6 -60.7M313.1 -60.8L475.6 77.3M313.0 -94.5L469.6 -229.0M509.1 -229.1L665.5 -96.1M509.0 -262.8L665.6 -397.3M-281.0 773.9L-118.5 912.0M-188.5 671.0L-118.4 610.8M-78.9 610.7L77.5 743.7M-79.0 577.0L-8.9 516.8M111.0 437.3L273.5 575.4M203.5 334.4L273.6 274.2M313.1 274.1L469.5 407.1M313.0 240.4L383.1 180.2M503.0 100.7L665.5 238.8M595.5 -2.2L665.6 -62.4M705.1 -62.5L861.5 70.5M705.0 -96.2L775.1 -156.4M895.0 -235.9L1057.5 -97.8M987.5 -338.8L1057.6 -399.0M-274.9 1113.9L-118.5 1246.9M-275.0 1080.2L-118.4 945.7M-78.9 945.6L83.6 1083.7M-79.0 911.9L77.6 777.4M117.1 777.3L273.5 910.3M117.0 743.6L273.6 609.1M313.1 609.0L475.6 747.1M313.0 575.3L469.6 440.8M509.1 440.7L665.5 573.7M509.0 407.0L665.6 272.5M705.1 272.4L867.6 410.5M705.0 238.7L861.6 104.2M901.1 104.1L1057.5 237.1M901.0 70.4L1057.6 -64.1M1097.1 -64.2L1259.6 73.9M1097.0 -97.9L1253.6 -232.4M1293.1 -232.5L1449.5 -99.5M1293.0 -266.2L1449.6 -400.7M-78.9 1280.5L77.5 1413.5M-79.0 1246.8L-8.9 1186.6M111.0 1107.1L273.5 1245.2M203.5 1004.2L273.6 944.0M313.1 943.9L469.5 1076.9M313.0 910.2L383.1 850.0M503.0 770.5L665.5 908.6M595.5 667.6L665.6 607.4M705.1 607.3L861.5 740.3M705.0 573.6L775.1 513.4M895.0 433.9L1057.5 572.0M987.5 331.0L1057.6 270.8M1097.1 270.7L1253.5 403.7M1097.0 237.0L1167.1 176.8M1287.0 97.3L1449.5 235.4M1379.5 -5.6L1449.6 -65.8M1489.1 -65.9L1645.5 67.1M1489.0 -99.6L1559.1 -159.8M1679.0 -239.3L1841.5 -101.2M1771.5 -342.2L1841.6 -402.4M313.1 1278.8L475.6 1416.9M313.0 1245.1L469.6 1110.6M509.1 1110.5L665.5 1243.5M509.0 1076.8L665.6 942.3M705.1 942.2L867.6 1080.3M705.0 908.5L861.6 774.0M901.1 773.9L1057.5 906.9M901.0 740.2L1057.6 605.7M1097.1 605.6L1259.6 743.7M1097.0 571.9L1253.6 437.4M1293.1 437.3L1449.5 570.3M1293.0 403.6L1449.6 269.1M1489.1 269.0L1651.6 407.1M1489.0 235.3L1645.6 100.8M1685.1 100.7L1841.5 233.7M1685.0 67.0L1841.6 -67.5M1881.1 -67.6L2043.6 70.5M1881.0 -101.3L2037.6 -235.8M705.1 1277.1L861.5 1410.1M705.0 1243.4L775.1 1183.2M895.0 1103.7L1057.5 1241.8M987.5 1000.8L1057.6 940.6M1097.1 940.5L1253.5 1073.5M1097.0 906.8L1167.1 846.6M1287.0 767.1L1449.5 905.2M1379.5 664.2L1449.6 604.0M1489.1 603.9L1645.5 736.9M1489.0 570.2L1559.1 510.0M1679.0 430.5L1841.5 568.6M1771.5 327.6L1841.6 267.4M1881.1 267.3L2037.5 400.3M1881.0 233.6L1951.1 173.4M1097.1 1275.4L1259.6 1413.5M1097.0 1241.7L1253.6 1107.2M1293.1 1107.1L1449.5 1240.1M1293.0 1073.4L1449.6 938.9M1489.1 938.8L1651.6 1076.9M1489.0 905.1L1645.6 770.6M1685.1 770.5L1841.5 903.5M1685.0 736.8L1841.6 602.3M1881.1 602.2L2043.6 740.3M1881.0 568.5L2037.6 434.0M1489.1 1273.7L1645.5 1406.7M1489.0 1240.0L1559.1 1179.8M1679.0 1100.3L1841.5 1238.4M1771.5 997.4L1841.6 937.2M1881.1 937.1L2037.5 1070.1M1881.0 903.4L1951.1 843.2M1881.1 1272.0L2043.6 1410.1M1881.0 1238.3L2037.6 1103.8" fill="none" stroke="#9a9a9a" stroke-opacity="0.16" stroke-width="0.9"/>
<g fill="#ffffff" fill-opacity="0.05" stroke="#a0a0a0" stroke-opacity="0.22" stroke-width="1.1">
<g transform="translate(97.3,90.7)"><rect x="-14.5" y="-9" width="29" height="20" rx="3"/><circle cx="0" cy="1.5" r="6.5"/><path d="M-6 -9 L-4 -12 H4 L6 -9"/></g>
<g transform="translate(293.3,257.3)"><rect x="-14.5" y="-9" width="29" height="20" rx="3"/><circle cx="0" cy="1.5" r="6.5"/><path d="M-6 -9 L-4 -12 H4 L6 -9"/></g>
<g transform="translate(97.3,760.5)"><rect x="-14.5" y="-9" width="29" height="20" rx="3"/><circle cx="0" cy="1.5" r="6.5"/><path d="M-6 -9 L-4 -12 H4 L6 -9"/></g>
<g transform="translate(293.3,592.2)"><rect x="-14.5" y="-9" width="29" height="20" rx="3"/><circle cx="0" cy="1.5" r="6.5"/><path d="M-6 -9 L-4 -12 H4 L6 -9"/></g>
<g transform="translate(489.3,423.9)"><rect x="-14.5" y="-9" width="29" height="20" rx="3"/><circle cx="0" cy="1.5" r="6.5"/><path d="M-6 -9 L-4 -12 H4 L6 -9"/></g>
<g transform="translate(685.3,255.6)"><rect x="-14.5" y="-9" width="29" height="20" rx="3"/><circle cx="0" cy="1.5" r="6.5"/><path d="M-6 -9 L-4 -12 H4 L6 -9"/></g>
<g transform="translate(881.3,87.3)"><rect x="-14.5" y="-9" width="29" height="20" rx="3"/><circle cx="0" cy="1.5" r="6.5"/><path d="M-6 -9 L-4 -12 H4 L6 -9"/></g>
<g transform="translate(293.3,927.1)"><rect x="-14.5" y="-9" width="29" height="20" rx="3"/><circle cx="0" cy="1.5" r="6.5"/><path d="M-6 -9 L-4 -12 H4 L6 -9"/></g>
<g transform="translate(685.3,590.5)"><rect x="-14.5" y="-9" width="29" height="20" rx="3"/><circle cx="0" cy="1.5" r="6.5"/><path d="M-6 -9 L-4 -12 H4 L6 -9"/></g>
<g transform="translate(1077.3,253.9)"><rect x="-14.5" y="-9" width="29" height="20" rx="3"/><circle cx="0" cy="1.5" r="6.5"/><path d="M-6 -9 L-4 -12 H4 L6 -9"/></g>
<g transform="translate(685.3,925.4)"><rect x="-14.5" y="-9" width="29" height="20" rx="3"/><circle cx="0" cy="1.5" r="6.5"/><path d="M-6 -9 L-4 -12 H4 L6 -9"/></g>
<g transform="translate(881.3,757.1)"><rect x="-14.5" y="-9" width="29" height="20" rx="3"/><circle cx="0" cy="1.5" r="6.5"/><path d="M-6 -9 L-4 -12 H4 L6 -9"/></g>
<g transform="translate(1077.3,588.8)"><rect x="-14.5" y="-9" width="29" height="20" rx="3"/><circle cx="0" cy="1.5" r="6.5"/><path d="M-6 -9 L-4 -12 H4 L6 -9"/></g>
<g transform="translate(1273.3,420.5)"><rect x="-14.5" y="-9" width="29" height="20" rx="3"/><circle cx="0" cy="1.5" r="6.5"/><path d="M-6 -9 L-4 -12 H4 L6 -9"/></g>
<g transform="translate(1469.3,252.2)"><rect x="-14.5" y="-9" width="29" height="20" rx="3"/><circle cx="0" cy="1.5" r="6.5"/><path d="M-6 -9 L-4 -12 H4 L6 -9"/></g>
<g transform="translate(1077.3,923.7)"><rect x="-14.5" y="-9" width="29" height="20" rx="3"/><circle cx="0" cy="1.5" r="6.5"/><path d="M-6 -9 L-4 -12 H4 L6 -9"/></g>
<g transform="translate(1469.3,587.1)"><rect x="-14.5" y="-9" width="29" height="20" rx="3"/><circle cx="0" cy="1.5" r="6.5"/><path d="M-6 -9 L-4 -12 H4 L6 -9"/></g>
<g transform="translate(1469.3,922.0)"><rect x="-14.5" y="-9" width="29" height="20" rx="3"/><circle cx="0" cy="1.5" r="6.5"/><path d="M-6 -9 L-4 -12 H4 L6 -9"/></g>
</g>
<g font-family="Liberation Sans, sans-serif" font-weight="bold" font-size="28" fill="#ffffff" fill-opacity="0.42" stroke="#9a9a9a" stroke-opacity="0.28" stroke-width="1">
<text transform="translate(7.7,1176.8) rotate(-40.2)" x="-8.4" y="7.6" textLength="249" lengthAdjust="spacingAndGlyphs">depositphotos</text>
<text transform="translate(7.7,503.9) rotate(-40.2)" x="-8.4" y="7.6" textLength="249" lengthAdjust="spacingAndGlyphs">depositphotos</text>
<text transform="translate(402.0,839.2) rotate(-40.2)" x="-8.4" y="7.6" textLength="249" lengthAdjust="spacingAndGlyphs">depositphotos</text>
<text transform="translate(796.3,1174.5) rotate(-40.2)" x="-8.4" y="7.6" textLength="249" lengthAdjust="spacingAndGlyphs">depositphotos</text>
<text transform="translate(402.0,166.3) rotate(-40.2)" x="-8.4" y="7.6" textLength="249" lengthAdjust="spacingAndGlyphs">depositphotos</text>
<text transform="translate(796.3,501.6) rotate(-40.2)" x="-8.4" y="7.6" textLength="249" lengthAdjust="spacingAndGlyphs">depositphotos</text>
<text transform="translate(1190.6,836.9) rotate(-40.2)" x="-8.4" y="7.6" textLength="249" lengthAdjust="spacingAndGlyphs">depositphotos</text>
<text transform="translate(1584.9,1172.2) rotate(-40.2)" x="-8.4" y="7.6" textLength="249" lengthAdjust="spacingAndGlyphs">depositphotos</text>
<text transform="translate(1190.6,164.0) rotate(-40.2)" x="-8.4" y="7.6" textLength="249" lengthAdjust="spacingAndGlyphs">depositphotos</text>
<text transform="translate(1584.9,499.3) rotate(-40.2)" x="-8.4" y="7.6" textLength="249" lengthAdjust="spacingAndGlyphs">depositphotos</text>
</g>
<g stroke="#1e1e1e" stroke-width="1.25" fill="none" stroke-linecap="round">
<path d="M193 197.4 L414 205.5"/>
<path d="M186 234 L426 239"/>
<path d="M239 270.5 L428 271"/>
<path d="M200 307.5 L407 309.5"/>
<path d="M186 377.3 L349.3 357.9"/>
<path d="M247.3 447.5 L402.3 388.5"/>
<path d="M248 516.6 L396 449.5"/>
<path d="M258.5 586.3 L422.2 473"/>
<path d="M270.7 642.9 L398.6 547.7"/>
<path d="M270.7 719 L382 634.7"/>
<path d="M242 791.5 L379.2 715.3"/>
<path d="M233.8 864.9 L403.3 823.8"/>
<path d="M259 928.8 L385.7 928.8"/>
<path d="M633.3 196.1 L466 232"/>
<path d="M661.3 250 L462 253.2"/>
<path d="M608 304.7 L458.9 292.2"/>
<path d="M634.7 378.8 L509.3 398.8"/>
<path d="M649.9 445.5 L534.7 425.5"/>
<path d="M651.2 515.4 L545 451.5"/>
<path d="M649 584.7 L553.5 520.5"/>
<path d="M622.8 652.9 L455 617"/>
<path d="M684.2 724 L464.8 666.6"/>
<path d="M640 792.6 L483.8 718"/>
<path d="M643 865.1 L502 824.3"/>
<path d="M926.7 268.8 L1140 305"/>
<path d="M949.3 353.3 L1120 361.3"/>
<path d="M942.7 436.8 L1106.7 382.7"/>
<path d="M964 519.5 L1060.8 480.8"/>
<path d="M996.7 594.2 L1114 515"/>
<path d="M949.7 686.3 L1092.6 637.7"/>
<path d="M963.1 769.4 L1110.2 689.5"/>
<path d="M965.4 853.5 L1130.4 787"/>
<path d="M965.4 853.5 L1108.6 821.6"/>
<path d="M1364.9 267.6 L1187 268.6"/>
<path d="M1426.6 352.9 L1259.7 343.8"/>
<path d="M1375.4 437.7 L1256.8 391.6"/>
<path d="M1355.5 518.7 L1207.6 445.3"/>
<path d="M1344.2 604 L1256.8 511.6"/>
<path d="M1351.5 688.8 L1201.2 581"/>
<path d="M1365.3 774.2 L1201.2 668"/>
<path d="M1427.4 858.3 L1225.8 859.3"/>
<path d="M1427.4 858.3 L1209.2 886.1"/>
</g>
<g font-family="Liberation Sans, sans-serif" font-size="15.4" fill="#0a0a0a" stroke="#ffffff" stroke-width="0.28" stroke-opacity="0.9">
<text transform="translate(128,200.3) scale(1,1.04)" text-anchor="start">Frontalis</text>
<text transform="translate(128,236.5) scale(1,1.04)" text-anchor="start">Nasalis</text>
<text transform="translate(128,273.5) scale(1,1.04)" text-anchor="start">Orbicularis oris</text>
<text transform="translate(128,311.5) scale(1,1.04)" text-anchor="start">Trapezius</text>
<text transform="translate(128,381) scale(1,1.04)" text-anchor="start">Deltoid</text>
<text transform="translate(128,450.7) scale(1,1.04)" text-anchor="start">Pectoralis major</text>
<text transform="translate(128,520.4) scale(1,1.04)" text-anchor="start">Serratus anterior</text>
<text transform="translate(128,590) scale(1,1.04)" text-anchor="start">Rectus abdominis</text>
<text transform="translate(128,650.8) scale(1,1.04)" text-anchor="start">Abdominal external</text>
<text transform="translate(128,670.4) scale(1,1.04)" text-anchor="start">oblique</text>
<text transform="translate(128,729) scale(1,1.04)" text-anchor="start">Quadriceps femoris</text>
<text transform="translate(128,799) scale(1,1.04)" text-anchor="start">Vastus lateralis</text>
<text transform="translate(128,869.3) scale(1,1.04)" text-anchor="start">Gatrocnemius</text>
<text transform="translate(128,933.2) scale(1,1.04)" text-anchor="start">Extensor muscles</text>
<text transform="translate(756,199.9) scale(1,1.04)" text-anchor="end">Orbicularis oculi</text>
<text transform="translate(756,255.9) scale(1,1.04)" text-anchor="end">Zygomaticus</text>
<text transform="translate(756,311.3) scale(1,1.04)" text-anchor="end">Sternocleidomastoid</text>
<text transform="translate(756,382) scale(1,1.04)" text-anchor="end">Latissimus dorsi</text>
<text transform="translate(756,451.3) scale(1,1.04)" text-anchor="end">Biceps brachii</text>
<text transform="translate(756,520.5) scale(1,1.04)" text-anchor="end">Pronator teres</text>
<text transform="translate(756,590.5) scale(1,1.04)" text-anchor="end">Brachioradialis</text>
<text transform="translate(756,659.8) scale(1,1.04)" text-anchor="end">Adductor magnus</text>
<text transform="translate(756,730) scale(1,1.04)" text-anchor="end">Sartorius</text>
<text transform="translate(756,799.6) scale(1,1.04)" text-anchor="end">Vastus medialis</text>
<text transform="translate(756,869.7) scale(1,1.04)" text-anchor="end">Tibialis anterior</text>
<text transform="translate(852,273.3) scale(1,1.04)" text-anchor="start">Trapezius</text>
<text transform="translate(852,356.5) scale(1,1.04)" text-anchor="start">Infraspinatus</text>
<text transform="translate(852,440) scale(1,1.04)" text-anchor="start">Teres major</text>
<text transform="translate(852,523.2) scale(1,1.04)" text-anchor="start">Brachioradialis</text>
<text transform="translate(852,597.7) scale(1,1.04)" text-anchor="start">Abdominal external</text>
<text transform="translate(852,617.3) scale(1,1.04)" text-anchor="start">oblique</text>
<text transform="translate(852,691.1) scale(1,1.04)" text-anchor="start">Iliotbial tract</text>
<text transform="translate(852,774.2) scale(1,1.04)" text-anchor="start">Biceps femoris</text>
<text transform="translate(852,857.4) scale(1,1.04)" text-anchor="start">Gastrocnemius</text>
<text transform="translate(1485,273.6) scale(1,1.04)" text-anchor="end">Splenus capitis</text>
<text transform="translate(1485,357.2) scale(1,1.04)" text-anchor="end">Deltoid</text>
<text transform="translate(1485,442) scale(1,1.04)" text-anchor="end">Triceps brachii</text>
<text transform="translate(1485,525.3) scale(1,1.04)" text-anchor="end">Latissimus dorsi</text>
<text transform="translate(1485,610.4) scale(1,1.04)" text-anchor="end">Flexor carpi ulnaris</text>
<text transform="translate(1485,694.2) scale(1,1.04)" text-anchor="end">Gluteus maximus</text>
<text transform="translate(1485,779.3) scale(1,1.04)" text-anchor="end">Semitendinosus</text>
<text transform="translate(1485,863.1) scale(1,1.04)" text-anchor="end">Soleus</text>
</g>
<rect x="0" y="1025" width="1600" height="100" fill="#333333"/>
<circle cx="67.7" cy="1074.8" r="28.2" fill="#ffffff"/>
<path d="M51.3 1066.1 Q51.3 1063.1 54.3 1063.1 L62.2 1063.1 L63.8 1059.4 Q64.1 1058.7 65 1058.7 L78.2 1058.7 Q79.1 1058.7 79.4 1059.4 L81 1063.1 L89.5 1063.1 Q92.5 1063.1 92.5 1066.1 L92.5 1088.9 Q92.5 1091.9 89.5 1091.9 L54.3 1091.9 Q51.3 1091.9 51.3 1088.9 Z" fill="#333333"/>
<circle cx="71.6" cy="1077.4" r="11" fill="#ffffff"/>
<circle cx="71.6" cy="1077.4" r="9.1" fill="#333333"/>
<circle cx="71.6" cy="1077.4" r="7.7" fill="#ffffff"/>
<path d="M66.5 1072.5 A6.2 6.2 0 0 0 75.8 1082.2" fill="none" stroke="#333333" stroke-width="0.9"/>
<rect x="85" y="1066.9" width="4.1" height="3.2" fill="#ffffff"/>
<g fill="none" stroke="#ffffff" stroke-width="5.9">
<circle cx="112.6" cy="1077.45" r="8.65"/>
<path d="M120.95 1054.9 V1088.9"/>
<path d="M143.6 1081.6 A8.65 8.65 0 1 1 141.9 1071.3"/>
<path d="M129.8 1083.2 L143.4 1070.2" stroke-width="5"/>
<circle cx="156.6" cy="1077.45" r="8.65"/>
<path d="M147.95 1066 V1096.8"/>
<circle cx="179.2" cy="1077.45" r="8.65"/>
<path d="M204.2 1069.9 C202.2 1066.6 193.6 1066.3 193.6 1071.6 C193.6 1076.6 203.6 1075.2 203.6 1082.2 C203.6 1089.2 193.8 1088.9 192.2 1085" stroke-width="5.4"/>
<path d="M209.95 1065.8 V1088.9"/>
<path d="M218.35 1058.3 V1088.9 M214.4 1068.6 H228.6" />
<circle cx="244" cy="1077.45" r="8.65"/>
<path d="M233.15 1066 V1096.8"/>
<path d="M258.45 1054.6 V1088.9"/>
<path d="M258.45 1078 C258.45 1069.5 270.5 1067.5 272.6 1076 L273.9 1088.9"/>
<circle cx="288" cy="1077.45" r="8.65"/>
<path d="M303.65 1059.2 V1088.9 M298.7 1068.2 H312"/>
<circle cx="322.9" cy="1077.45" r="8.65"/>
<path d="M347 1069.9 C345 1066.6 336.4 1066.3 336.4 1071.6 C336.4 1076.6 346.4 1075.2 346.4 1082.2 C346.4 1089.2 336.6 1088.9 335 1085" stroke-width="5.4"/>
</g>
<circle cx="209.8" cy="1057.8" r="3.3" fill="#ffffff"/>
<text x="1112.6" y="1081.6" font-family="Liberation Sans, sans-serif" font-size="20.6" fill="#f2f2f2" textLength="190.8" lengthAdjust="spacingAndGlyphs">Image ID: 461920640</text>
<rect x="1322.1" y="1058.5" width="1" height="32" fill="#5a5a5a"/>
<text x="1343" y="1081.6" font-family="Liberation Sans, sans-serif" font-size="20.6" fill="#f2f2f2" textLength="217.5" lengthAdjust="spacingAndGlyphs">www.depositphotos.com</text>

</svg>
</body></html>
